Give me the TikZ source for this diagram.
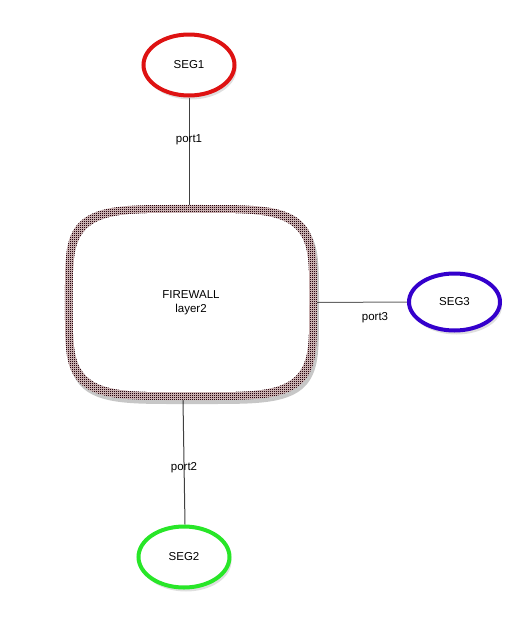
\documentclass[tikz,border=0pt]{standalone}
\usepackage{fontspec}
\setmainfont{Liberation Sans}
\usetikzlibrary{shapes.geometric,shadows,patterns,backgrounds}
\pgfdeclarepatternformonly{fwdots}{\pgfpointorigin}{\pgfpoint{2pt}{2pt}}{\pgfpoint{2pt}{2pt}}{%
  \pgfpathrectangle{\pgfpointorigin}{\pgfpoint{1.3pt}{1.3pt}}\pgfusepath{fill}}
\definecolor{segred}{RGB}{222,18,18}
\definecolor{seggreen}{RGB}{40,230,40}
\definecolor{segblue}{RGB}{52,0,204}
\definecolor{dotcol}{RGB}{40,5,15}
\definecolor{bandbg}{RGB}{200,175,175}
\tikzset{
  seg/.style={ellipse, line width=4pt, fill=white, minimum width=91pt, minimum height=61pt,
    inner sep=0pt, font=\fontsize{11.5}{13}\selectfont,
    drop shadow={opacity=0.25, shadow xshift=2pt, shadow yshift=-4pt}},
  conn/.style={draw=black!75, line width=1pt},
  lbl/.style={font=\fontsize{11.5}{13}\selectfont, inner sep=1pt},
}
\begin{document}
\begin{tikzpicture}[x=1pt,y=-1pt]
\useasboundingbox (0,0) rectangle (511,622);
% firewall shape (superellipse)
\def\fwx{191}\def\fwy{302.5}\def\fwe{0.45}
\fill[black, opacity=0.22] plot[domain=0:360, samples=180, smooth cycle]
  ({\fwx+2+126*sign(cos(\x))*pow(abs(cos(\x)),\fwe)}, {\fwy+4+97.5*sign(sin(\x))*pow(abs(sin(\x)),\fwe)});
\fill[bandbg] plot[domain=0:360, samples=180, smooth cycle]
  ({\fwx+126*sign(cos(\x))*pow(abs(cos(\x)),\fwe)}, {\fwy+97.5*sign(sin(\x))*pow(abs(sin(\x)),\fwe)});
\fill[pattern=fwdots, pattern color=dotcol] plot[domain=0:360, samples=180, smooth cycle]
  ({\fwx+126*sign(cos(\x))*pow(abs(cos(\x)),\fwe)}, {\fwy+97.5*sign(sin(\x))*pow(abs(sin(\x)),\fwe)});
\fill[white] plot[domain=0:360, samples=180, smooth cycle]
  ({\fwx+118*sign(cos(\x))*pow(abs(cos(\x)),\fwe)}, {\fwy+89.5*sign(sin(\x))*pow(abs(sin(\x)),\fwe)});
\node[minimum width=252pt, minimum height=195pt, inner sep=0pt, align=center,
  font=\fontsize{11.5}{13.5}\selectfont] (fw) at (\fwx,\fwy) {FIREWALL\\layer2};
% segments
\node[seg, draw=segred] (seg1) at (189,65) {SEG1};
\node[seg, draw=seggreen] (seg2) at (184,557) {SEG2};
\node[seg, draw=segblue, minimum height=57pt] (seg3) at (454.5,302) {SEG3};
% connectors
\begin{scope}[on background layer]
\draw[conn] (seg1.south) -- (seg1.south |- fw.north);
\draw[conn] ([xshift=-8pt]fw.south) -- ([xshift=1pt]seg2.north);
\draw[conn, draw=black!60] (fw.east) -- (seg3.west);
\end{scope}
\node[lbl] (p1) at (189,140) {port1};
\node[lbl] (p2) at (184,468) {port2};
\node[lbl] (p3) at (375,318) {port3};
\end{tikzpicture}
\end{document}
